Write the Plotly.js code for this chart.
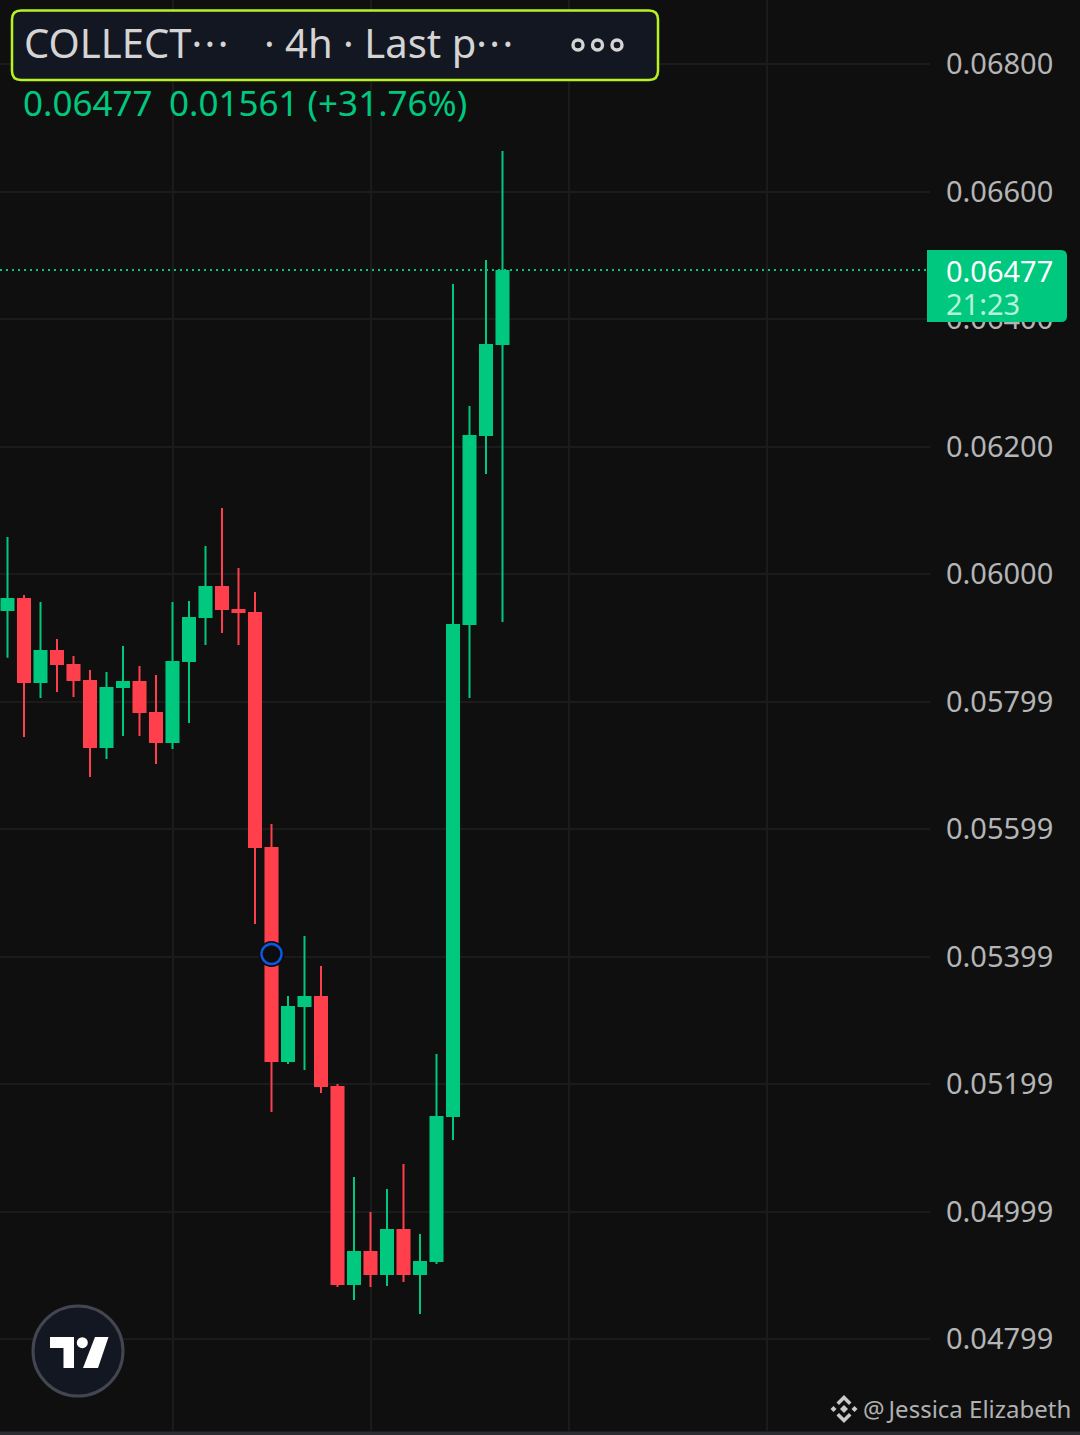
<!DOCTYPE html>
<html><head><meta charset="utf-8">
<script src="https://cdn.plot.ly/plotly-3.0.1.min.js"></script>
<style>html,body{margin:0;padding:0;background:#0f0f0f}#c{width:1080px;height:1435px}</style>
</head><body><div id="c"></div>
<script>
const candleIndex = [0,1,2,3,4,5,6,7,8,9,10,11,12,13,14,15,16,17,18,19,20,21,22,23,24,25,26,27,28,29,30];
const opens  = [.05942,.059623,.05829,.058808,.058588,.058337,.057271,.058212,.058322,.057835,.057349,.05862,.05931,.059812,.059451,.059404,.055718,.052345,.053208,.05338,.051969,.048847,.04938,.049004,.049726,.049004,.049208,.051482,.0592,.062165,.063592];
const highs  = [.06058,.059671,.059561,.05898,.058714,.058494,.058463,.058871,.058557,.058416,.059561,.059577,.060439,.061035,.060094,.059718,.056078,.05338,.054322,.053851,.052,.050541,.049992,.050353,.050745,.049647,.052471,.064549,.062635,.064926,.066635];
const lows   = [.058687,.057443,.058055,.058149,.058071,.056816,.057098,.057459,.057459,.05702,.057255,.057663,.058886,.059075,.058886,.05451,.051561,.052314,.05222,.051859,.048816,.048612,.048816,.048831,.048894,.048392,.049177,.051122,.058055,.061569,.059247];
const closes = [.059623,.05829,.058808,.058573,.058322,.057271,.058228,.058322,.05782,.057349,.058635,.059326,.059812,.059435,.059388,.055702,.052345,.053224,.05338,.051953,.048847,.04938,.049004,.049726,.049004,.049223,.051498,.059216,.06218,.063608,.06477];
const tickVals = [.068,.066,.064,.062,.06,.058,.056,.054,.052,.05,.048];
const tickLabels = ["0.06800","0.06600","0.06400","0.06200","0.06000","0.05799","0.05599","0.05399","0.05199","0.04999","0.04799"];
const timeTicks = [10,22,34,46];
const lastPrice = 0.06477;
const markerIndex = [16];
const markerPrice = [0.054039];

const GREEN='#00c87e', RED='#ff404c', BG='#0f0f0f', GRID='#1b1b1b', TXT='#b4b5b6', FONT='"Noto Sans", sans-serif';
const W=1080,H=1435,PW=930,PH=1431;
const X=p=>(p/PW).toFixed(5), Y=p=>(1-p/PH).toFixed(5);
const path=(d)=>d.map(s=>typeof s==='string'?s:X(s[0])+','+Y(s[1])).join(' ');
function rr(x0,y0,x1,y1,rTL,rTR,rBR,rBL){
  return path(['M',[x0+rTL,y0],'L',[x1-rTR,y0],'Q',[x1,y0],[x1,y0+rTR],'L',[x1,y1-rBR],'Q',[x1,y1],[x1-rBR,y1],'L',[x0+rBL,y1],'Q',[x0,y1],[x0,y1-rBL],'L',[x0,y0+rTL],'Q',[x0,y0],[x0+rTL,y0],'Z']);
}
function sh(d,fill,line,lw){return {type:'path',xref:'paper',yref:'paper',layer:'above',path:d,fillcolor:fill,line:{color:line||'rgba(0,0,0,0)',width:lw||0}};}
function circ(cx,cy,r,fill,line,lw){return {type:'circle',xref:'paper',yref:'paper',layer:'above',x0:X(cx-r),x1:X(cx+r),y0:Y(cy+r),y1:Y(cy-r),fillcolor:fill,line:{color:line||'rgba(0,0,0,0)',width:lw||0}};}
function txt(x,y,t,size,color,anchor){return {xref:'paper',yref:'paper',x:+X(x),y:+Y(y),text:t,showarrow:false,xanchor:anchor||'left',yanchor:'middle',font:{family:FONT,size:size,color:color},borderpad:0};}

const LOGO='#c9c9c9';
const bx=844,by=1409;
const DOTS='<span style="letter-spacing:2.4px">···</span>';
const shapes=[
  {type:'line',xref:'paper',yref:'y',layer:'above',x0:0,x1:X(928),y0:lastPrice,y1:lastPrice,line:{color:GREEN,width:2,dash:'2px,4px'}},
  sh(rr(927,250,1067,322,0,6,6,0),GREEN),
  {type:'rect',xref:'paper',yref:'paper',layer:'above',x0:0,x1:X(W),y0:Y(1435),y1:Y(1431.5),fillcolor:'#2a2e33',line:{width:0}},
  sh(rr(12,10.5,658,80,9,9,9,9),'#131722','#b8f21f',2.5),
  circ(578,45,5,'rgba(0,0,0,0)','#d4d4d4',3.4),
  circ(597.5,45,5,'rgba(0,0,0,0)','#d4d4d4',3.4),
  circ(617,45,5,'rgba(0,0,0,0)','#d4d4d4',3.4),
  circ(78,1351,45,'#131722','#434651',3),
  sh(path(['M',[50,1337],'L',[74,1337],'L',[74,1368],'L',[63.5,1368],'L',[63.5,1348],'L',[50,1348],'Z']),'#ffffff'),
  circ(82.3,1342.7,5.5,'#ffffff'),
  sh(path(['M',[95,1337],'L',[108.5,1337],'L',[98,1368],'L',[83,1368],'Z']),'#ffffff'),
  // exchange mark beside the credit
  sh(path(['M',[bx,by-14],'L',[bx+7.5,by-6.5],'L',[bx+5,by-4],'L',[bx,by-9],'L',[bx-5,by-4],'L',[bx-7.5,by-6.5],'Z']),LOGO),
  sh(path(['M',[bx,by+14],'L',[bx+7.5,by+6.5],'L',[bx+5,by+4],'L',[bx,by+9],'L',[bx-5,by+4],'L',[bx-7.5,by+6.5],'Z']),LOGO),
  sh(path(['M',[bx-13.5,by],'L',[bx-10.5,by-3],'L',[bx-7.5,by],'L',[bx-10.5,by+3],'Z']),LOGO),
  sh(path(['M',[bx+13.5,by],'L',[bx+10.5,by-3],'L',[bx+7.5,by],'L',[bx+10.5,by+3],'Z']),LOGO),
  sh(path(['M',[bx,by-4],'L',[bx+4,by],'L',[bx,by+4],'L',[bx-4,by],'Z']),LOGO)
];
const annotations=[
  txt(23,42.5,'COLLECT'+DOTS,40,'#d4d4d4'),
  txt(262.5,42.5,'· 4h · Last p'+DOTS,40,'#d4d4d4'),
  txt(22,102,'0.06477',35,GREEN),
  txt(168,102,'0.01561 (+31.76%)',35,GREEN),
  txt(945,270.5,'0.06477',29,'#ffffff'),
  txt(945,303.5,'21:23',29,'#b5f2da'),
  txt(862,1408,'@\u2009Jessica Elizabeth',24,'#b0b1b2')
];

// The candle outline adds half its width beyond each body edge; pull the edges in by that much.
const strokeInset = 0.0000157;
const candle={type:'candlestick',x:candleIndex,
  open:opens.map((o,i)=>o+Math.sign(closes[i]-o)*strokeInset),
  high:highs,low:lows,
  close:closes.map((c,i)=>c-Math.sign(c-opens[i])*strokeInset),
  increasing:{line:{color:GREEN,width:2},fillcolor:GREEN},
  decreasing:{line:{color:RED,width:2},fillcolor:RED},
  whiskerwidth:0,hoverinfo:'skip',showlegend:false};
const halo={type:'scatter',mode:'markers',x:markerIndex,y:markerPrice,cliponaxis:false,hoverinfo:'skip',showlegend:false,
  marker:{size:26,color:'#0d0d10',line:{width:0}}};
const marker={type:'scatter',mode:'markers',x:markerIndex,y:markerPrice,cliponaxis:false,hoverinfo:'skip',showlegend:false,
  marker:{size:20,color:'#0d0d10',line:{color:'#0a5ae6',width:2.4}}};

Plotly.newPlot('c',[candle,halo,marker],{
  width:W,height:H,paper_bgcolor:BG,plot_bgcolor:BG,
  margin:{l:0,r:W-PW,t:0,b:H-PH,pad:0},
  boxgap:0.27,boxgroupgap:0,showlegend:false,
  xaxis:{type:'linear',range:[-7.5/16.5,(PW-7.5)/16.5],tickvals:timeTicks,ticktext:['','','',''],showticklabels:false,ticks:'',
    showgrid:true,gridcolor:GRID,gridwidth:2,zeroline:false,showline:false,rangeslider:{visible:false},fixedrange:true},
  yaxis:{side:'right',range:[0.0690039-PH*0.0000156863,0.0690039],tickvals:tickVals,ticktext:tickLabels,ticks:'',
    ticklabelstandoff:15,tickfont:{family:FONT,size:29,color:TXT},
    showgrid:true,gridcolor:GRID,gridwidth:2,zeroline:false,showline:false,fixedrange:true},
  shapes:shapes,annotations:annotations
},{displayModeBar:false,staticPlot:true});
</script></body></html>
